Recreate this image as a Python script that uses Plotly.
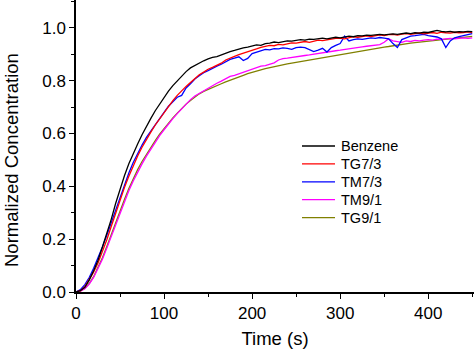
import plotly.graph_objects as go

time_s = list(range(0, 455, 5))

benzene = [0.000, 0.005, 0.018, 0.045, 0.080, 0.120, 0.170, 0.220, 0.275, 0.335,
           0.390, 0.440, 0.485, 0.525, 0.560, 0.595, 0.628, 0.657, 0.686, 0.712,
           0.738, 0.760, 0.781, 0.800, 0.818, 0.834, 0.848, 0.858, 0.867, 0.875,
           0.882, 0.888, 0.891, 0.898, 0.903, 0.910, 0.914, 0.920, 0.924, 0.927,
           0.930, 0.935, 0.933, 0.940, 0.942, 0.946, 0.944, 0.948, 0.950, 0.949,
           0.953, 0.955, 0.953, 0.957, 0.956, 0.959, 0.961, 0.958, 0.962, 0.964,
           0.962, 0.966, 0.968, 0.966, 0.970, 0.969, 0.972, 0.971, 0.973, 0.975,
           0.973, 0.976, 0.977, 0.975, 0.978, 0.980, 0.978, 0.981, 0.980, 0.983,
           0.982, 0.985, 0.990, 0.986, 0.984, 0.986, 0.983, 0.985, 0.984, 0.986,
           0.985]

tg73 = [0.000, 0.005, 0.020, 0.045, 0.075, 0.110, 0.152, 0.198, 0.248, 0.298,
        0.348, 0.395, 0.438, 0.478, 0.515, 0.548, 0.578, 0.605, 0.632, 0.656,
        0.680, 0.703, 0.724, 0.744, 0.762, 0.778, 0.793, 0.808, 0.822, 0.832,
        0.843, 0.850, 0.858, 0.866, 0.878, 0.886, 0.892, 0.898, 0.903, 0.910,
        0.915, 0.920, 0.926, 0.929, 0.933, 0.932, 0.937, 0.935, 0.940, 0.943,
        0.942, 0.946, 0.948, 0.945, 0.950, 0.953, 0.951, 0.955, 0.957, 0.960,
        0.961, 0.958, 0.963, 0.966, 0.964, 0.967, 0.969, 0.967, 0.971, 0.973,
        0.970, 0.974, 0.975, 0.972, 0.976, 0.978, 0.975, 0.978, 0.980, 0.977,
        0.979, 0.982, 0.979, 0.983, 0.981, 0.980, 0.983, 0.981, 0.982, 0.984,
        0.982]

tm73 = [0.000, 0.009, 0.028, 0.055, 0.090, 0.128, 0.170, 0.215, 0.262, 0.310,
        0.360, 0.410, 0.450, 0.490, 0.525, 0.556, 0.585, 0.610, 0.635, 0.658,
        0.680, 0.703, 0.720, 0.737, 0.744, 0.772, 0.788, 0.806, 0.818, 0.830,
        0.838, 0.848, 0.855, 0.862, 0.872, 0.880, 0.885, 0.890, 0.876, 0.884,
        0.902, 0.908, 0.914, 0.918, 0.916, 0.921, 0.920, 0.924, 0.922, 0.918,
        0.925, 0.927, 0.925, 0.918, 0.910, 0.915, 0.922, 0.908, 0.925, 0.933,
        0.940, 0.968, 0.950, 0.955, 0.958, 0.956, 0.960, 0.962, 0.960, 0.963,
        0.961, 0.958, 0.940, 0.925, 0.955, 0.962, 0.968, 0.970, 0.972, 0.975,
        0.970, 0.968, 0.965, 0.958, 0.925, 0.950, 0.962, 0.966, 0.970, 0.975,
        0.978]

tm91 = [0.000, 0.003, 0.012, 0.030, 0.055, 0.087, 0.124, 0.166, 0.210, 0.255,
        0.300, 0.342, 0.383, 0.420, 0.455, 0.485, 0.514, 0.541, 0.566, 0.592,
        0.614, 0.636, 0.656, 0.675, 0.694, 0.712, 0.728, 0.742, 0.752, 0.762,
        0.772, 0.782, 0.790, 0.798, 0.806, 0.816, 0.820, 0.826, 0.832, 0.837,
        0.843, 0.850, 0.855, 0.857, 0.863, 0.867, 0.878, 0.883, 0.885, 0.888,
        0.890, 0.892, 0.895, 0.897, 0.900, 0.902, 0.905, 0.907, 0.910, 0.913,
        0.915, 0.918, 0.920, 0.923, 0.925, 0.928, 0.930, 0.932, 0.935, 0.936,
        0.945, 0.958, 0.950, 0.948, 0.945, 0.950, 0.948, 0.952, 0.950, 0.953,
        0.955, 0.953, 0.957, 0.956, 0.958, 0.960, 0.958, 0.960, 0.962, 0.960,
        0.962]

tg91 = [0.000, 0.003, 0.013, 0.032, 0.058, 0.092, 0.130, 0.172, 0.218, 0.263,
        0.308, 0.350, 0.392, 0.430, 0.463, 0.494, 0.522, 0.548, 0.573, 0.597,
        0.619, 0.640, 0.659, 0.677, 0.695, 0.711, 0.725, 0.738, 0.750, 0.759,
        0.767, 0.774, 0.781, 0.788, 0.795, 0.802, 0.808, 0.814, 0.820, 0.826,
        0.832, 0.837, 0.841, 0.845, 0.849, 0.853, 0.857, 0.860, 0.863, 0.866,
        0.869, 0.872, 0.875, 0.878, 0.881, 0.884, 0.887, 0.890, 0.893, 0.895,
        0.898, 0.900, 0.903, 0.906, 0.910, 0.913, 0.916, 0.919, 0.921, 0.924,
        0.927, 0.929, 0.932, 0.934, 0.937, 0.939, 0.942, 0.944, 0.946, 0.948,
        0.950, 0.952, 0.954, 0.955, 0.957, 0.959, 0.961, 0.962, 0.964, 0.965,
        0.967]

series_names = ["Benzene", "TG7/3", "TM7/3", "TM9/1", "TG9/1"]
series_values = [benzene, tg73, tm73, tm91, tg91]
series_colors = ["#000000", "#FF0000", "#0000FF", "#FF00FF", "#808000"]

font_family = "Liberation Sans, Arial, sans-serif"

fig = go.Figure()
# draw in reverse so black ends up on top
for name, vals, col in reversed(list(zip(series_names, series_values, series_colors))):
    fig.add_trace(go.Scatter(x=time_s, y=vals, mode="lines", name=name,
                             line=dict(color=col, width=1.3), showlegend=False))

# compact legend drawn with paper-referenced shapes + text (matches reference spacing)
plot_w, plot_h, left = 398.0, 292.0, 76.0
leg_line_x0, leg_line_x1, leg_text_x = 302.0, 335.0, 339.0
leg_top, leg_step = 146.0, 17.9
shapes = []
annotations = []
for i, (name, col) in enumerate(zip(series_names, series_colors)):
    py = leg_top + i * leg_step
    yp = 1 - py / plot_h
    shapes.append(dict(type="line", xref="paper", yref="paper",
                       x0=(leg_line_x0 - left) / plot_w, x1=(leg_line_x1 - left) / plot_w,
                       y0=yp, y1=yp, line=dict(color=col, width=1.3)))
    annotations.append(dict(xref="paper", yref="paper", x=(leg_text_x - left) / plot_w, y=yp,
                            xanchor="left", yanchor="middle", showarrow=False, text=name,
                            font=dict(size=14.5, family=font_family, color="black")))

# y-axis title placed as annotation to match reference position
annotations.append(dict(xref="paper", yref="paper", x=(11 - left) / plot_w, y=1 - 160.0 / plot_h,
                        xanchor="center", yanchor="middle", showarrow=False,
                        text="Normalized Concentration", textangle=-90,
                        font=dict(size=18.5, family=font_family, color="black")))

fig.update_layout(
    width=474, height=354,
    margin=dict(l=76, r=0, t=0, b=62),
    paper_bgcolor="white", plot_bgcolor="white",
    font=dict(family=font_family, color="black", size=17),
    showlegend=False,
    shapes=shapes,
    annotations=annotations,
    xaxis=dict(range=[0, 452], showline=True, linecolor="black", linewidth=1.5,
               showgrid=False, zeroline=False, ticks="outside", ticklen=5,
               tickwidth=1.2, tickcolor="black", dtick=100, tick0=0,
               minor=dict(ticks="outside", ticklen=3, dtick=50, tickcolor="black", tickwidth=1.2),
               title=dict(text="Time (s)", font=dict(size=18.5), standoff=10)),
    yaxis=dict(range=[0, 1.105], showline=True, linecolor="black", linewidth=1.5,
               showgrid=False, zeroline=False, ticks="outside", ticklen=5,
               tickwidth=1.2, tickcolor="black", dtick=0.2, tick0=0,
               tickformat=".1f",
               minor=dict(ticks="outside", ticklen=3, dtick=0.1, tickcolor="black", tickwidth=1.2)),
)

fig.write_html("out.html")
